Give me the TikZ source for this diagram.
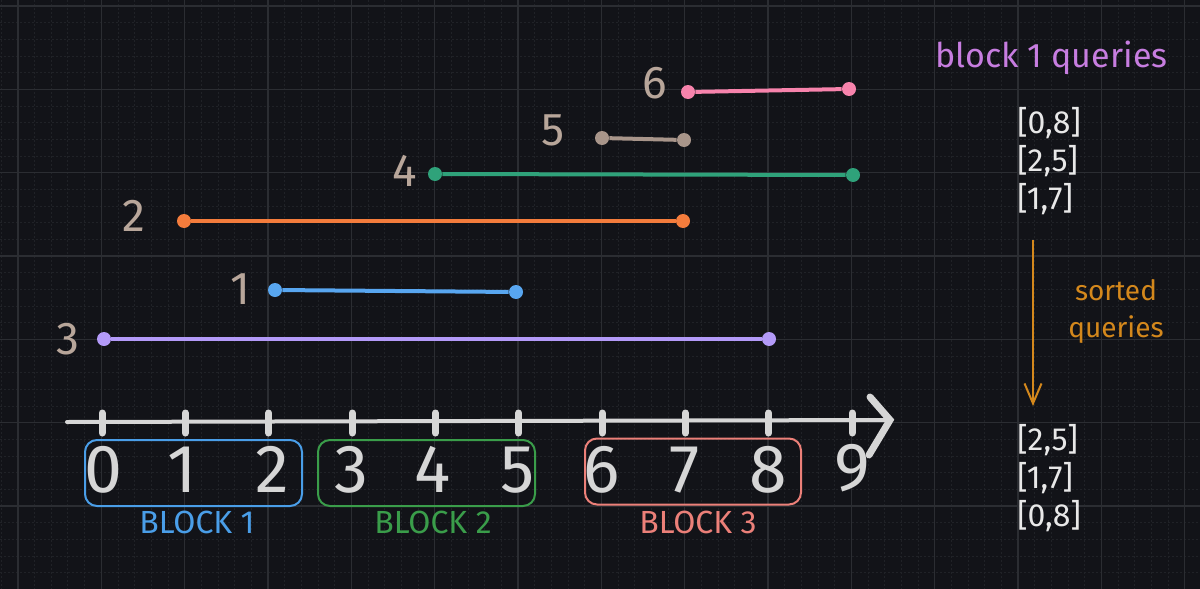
\documentclass[tikz,border=0pt]{standalone}
\usepackage{fontspec}
\setmainfont{Fira Sans}
\usetikzlibrary{arrows.meta,positioning}

\definecolor{bgdark}{HTML}{121318}
\definecolor{gridmajor}{HTML}{2B2D32}
\definecolor{gridminor}{HTML}{202227}
\definecolor{axisgray}{HTML}{D6D6D6}
\definecolor{labeltan}{HTML}{B8A69A}
\definecolor{qpink}{HTML}{F783AC}
\definecolor{qtan}{HTML}{A8958A}
\definecolor{qgreen}{HTML}{2FA27A}
\definecolor{qorange}{HTML}{F47C3C}
\definecolor{qblue}{HTML}{58A6F0}
\definecolor{qpurple}{HTML}{B39AF8}
\definecolor{blkblue}{HTML}{4A9EE8}
\definecolor{blkgreen}{HTML}{3A9D4A}
\definecolor{blkred}{HTML}{EC8079}
\definecolor{headviolet}{HTML}{C77DE0}
\definecolor{sortorange}{HTML}{D4881C}
\definecolor{listwhite}{HTML}{E8E8E8}

\tikzset{
  minorgrid/.style={gridminor,line width=0.5pt,dash pattern=on 1pt off 1pt},
  majorgrid/.style={gridmajor,line width=0.6pt},
  qline/.style={line width=2pt},
  qdot/.style={circle,fill=#1,inner sep=0pt,minimum size=7pt},
  qlabel/.style={labeltan,anchor=base,inner sep=0pt,font=\fontsize{23}{26}\selectfont},
  axisline/.style={axisgray,line width=2pt,line cap=round},
  tickmark/.style={axisgray,line width=3.5pt,line cap=round},
  digit/.style={axisgray,anchor=base,inner sep=0pt,font=\fontsize{34}{38}\selectfont},
  blockbox/.style={rounded corners=6pt,line width=1pt,minimum height=33pt,inner sep=0pt},
  blocktext/.style={anchor=base,inner sep=0pt,font=\fontsize{16}{18}\selectfont},
  qlist/.style={listwhite,anchor=base west,align=left,inner sep=0pt,font=\fontsize{16}{19}\selectfont},
}

\begin{document}
\begin{tikzpicture}[x=0.5pt,y=-0.5pt]
\useasboundingbox (0,0) rectangle (1200,589);
\fill[bgdark] (0,0) rectangle (1200,589);

% background grid
\foreach \gk in {0,...,71}
  \draw[minorgrid] ({1.33+16.667*\gk},0) -- ({1.33+16.667*\gk},589);
\foreach \gk in {0,...,35}
  \draw[minorgrid] (0,{6+16.667*\gk}) -- (1200,{6+16.667*\gk});
\foreach \gk in {0,...,14}
  \draw[majorgrid] ({18+83.333*\gk},0) -- ({18+83.333*\gk},589);
\foreach \gk in {0,...,6}
  \draw[majorgrid] (0,{6+83.333*\gk}) -- (1200,{6+83.333*\gk});

% number line
\coordinate (axW) at (67,422);
\coordinate (axE) at (890,420);
\draw[axisline] (axW) -- (axE);
\draw[axisline,line width=3.5pt] (870,397) -- (axE) -- (869,455);
\foreach \tk in {0,...,9}
  \draw[tickmark] ({102+83.333*\tk},413) -- ({102+83.333*\tk},433);

\node (d0) at (103,492)[digit] {0};
\node (d1) at (182,492)[digit] {1};
\node (d2) at (272,492)[digit] {2};
\node (d3) at (351,492)[digit] {3};
\node (d4) at (433,492)[digit] {4};
\node (d5) at (518,492)[digit] {5};
\node (d6) at (602,492)[digit] {6};
\node (d7) at (685,492)[digit] {7};
\node (d8) at (768,492)[digit] {8};
\node (d9) at (852,490)[digit] {9};

% blocks
\node (blk1) at (193.5,473)[blockbox,draw=blkblue,minimum width=108.5pt] {};
\node (blk2) at (426.5,473)[blockbox,draw=blkgreen,minimum width=108.5pt] {};
\node (blk3) at (693,471.5)[blockbox,draw=blkred,minimum width=108pt] {};
\node (blk1txt) at (197,533)[blocktext,blkblue] {BLOCK 1};
\node (blk2txt) at (433,533)[blocktext,blkgreen] {BLOCK 2};
\node (blk3txt) at (698,533)[blocktext,blkred] {BLOCK 3};

% queries
\node (q6s) at (688,92)[qdot=qpink] {};
\node (q6e) at (849,89)[qdot=qpink] {};
\draw [qline,qpink] (q6s) -- (q6e);
\node (q6lbl) at (655,98)[qlabel] {6};

\node (q5s) at (602,138)[qdot=qtan] {};
\node (q5e) at (684,140)[qdot=qtan] {};
\draw [qline,qtan] (q5s) -- (q5e);
\node (q5lbl) at (553,145)[qlabel] {5};

\node (q4s) at (435,174)[qdot=qgreen] {};
\node (q4e) at (853,175)[qdot=qgreen] {};
\draw [qline,qgreen] (q4s) -- (q4e);
\node (q4lbl) at (405,186)[qlabel] {4};

\node (q2s) at (184,221)[qdot=qorange] {};
\node (q2e) at (683,221)[qdot=qorange] {};
\draw [qline,qorange] (q2s) -- (q2e);
\node (q2lbl) at (134,231)[qlabel] {2};

\node (q1s) at (275,290)[qdot=qblue] {};
\node (q1e) at (516,292)[qdot=qblue] {};
\draw [qline,qblue] (q1s) -- (q1e);
\node (q1lbl) at (240,304)[qlabel] {1};

\node (q3s) at (104,339)[qdot=qpurple] {};
\node (q3e) at (769,339)[qdot=qpurple] {};
\draw [qline,qpurple] (q3s) -- (q3e);
\node (q3lbl) at (68,354)[qlabel] {3};

% query lists
\node (head) at (935,68)[anchor=base west,inner sep=0pt,headviolet,font=\fontsize{17}{20}\selectfont] {block 1 queries};
\node (listA) at (1017,209)[qlist] {[0,8]\\{}[2,5]\\{}[1,7]};
\coordinate (srtTop) at (1033,240);
\coordinate (srtBot) at (1033,406);
\draw [-{Straight Barb[length=10pt,width=8.5pt]},sortorange,line width=1pt] (srtTop) -- (srtBot);
\node (srtlbl) at (1116,337)[anchor=base,align=center,inner sep=0pt,sortorange,font=\fontsize{14}{18.5}\selectfont] {sorted\\queries};
\node (listB) at (1017,526)[qlist] {[2,5]\\{}[1,7]\\{}[0,8]};
\end{tikzpicture}
\end{document}
